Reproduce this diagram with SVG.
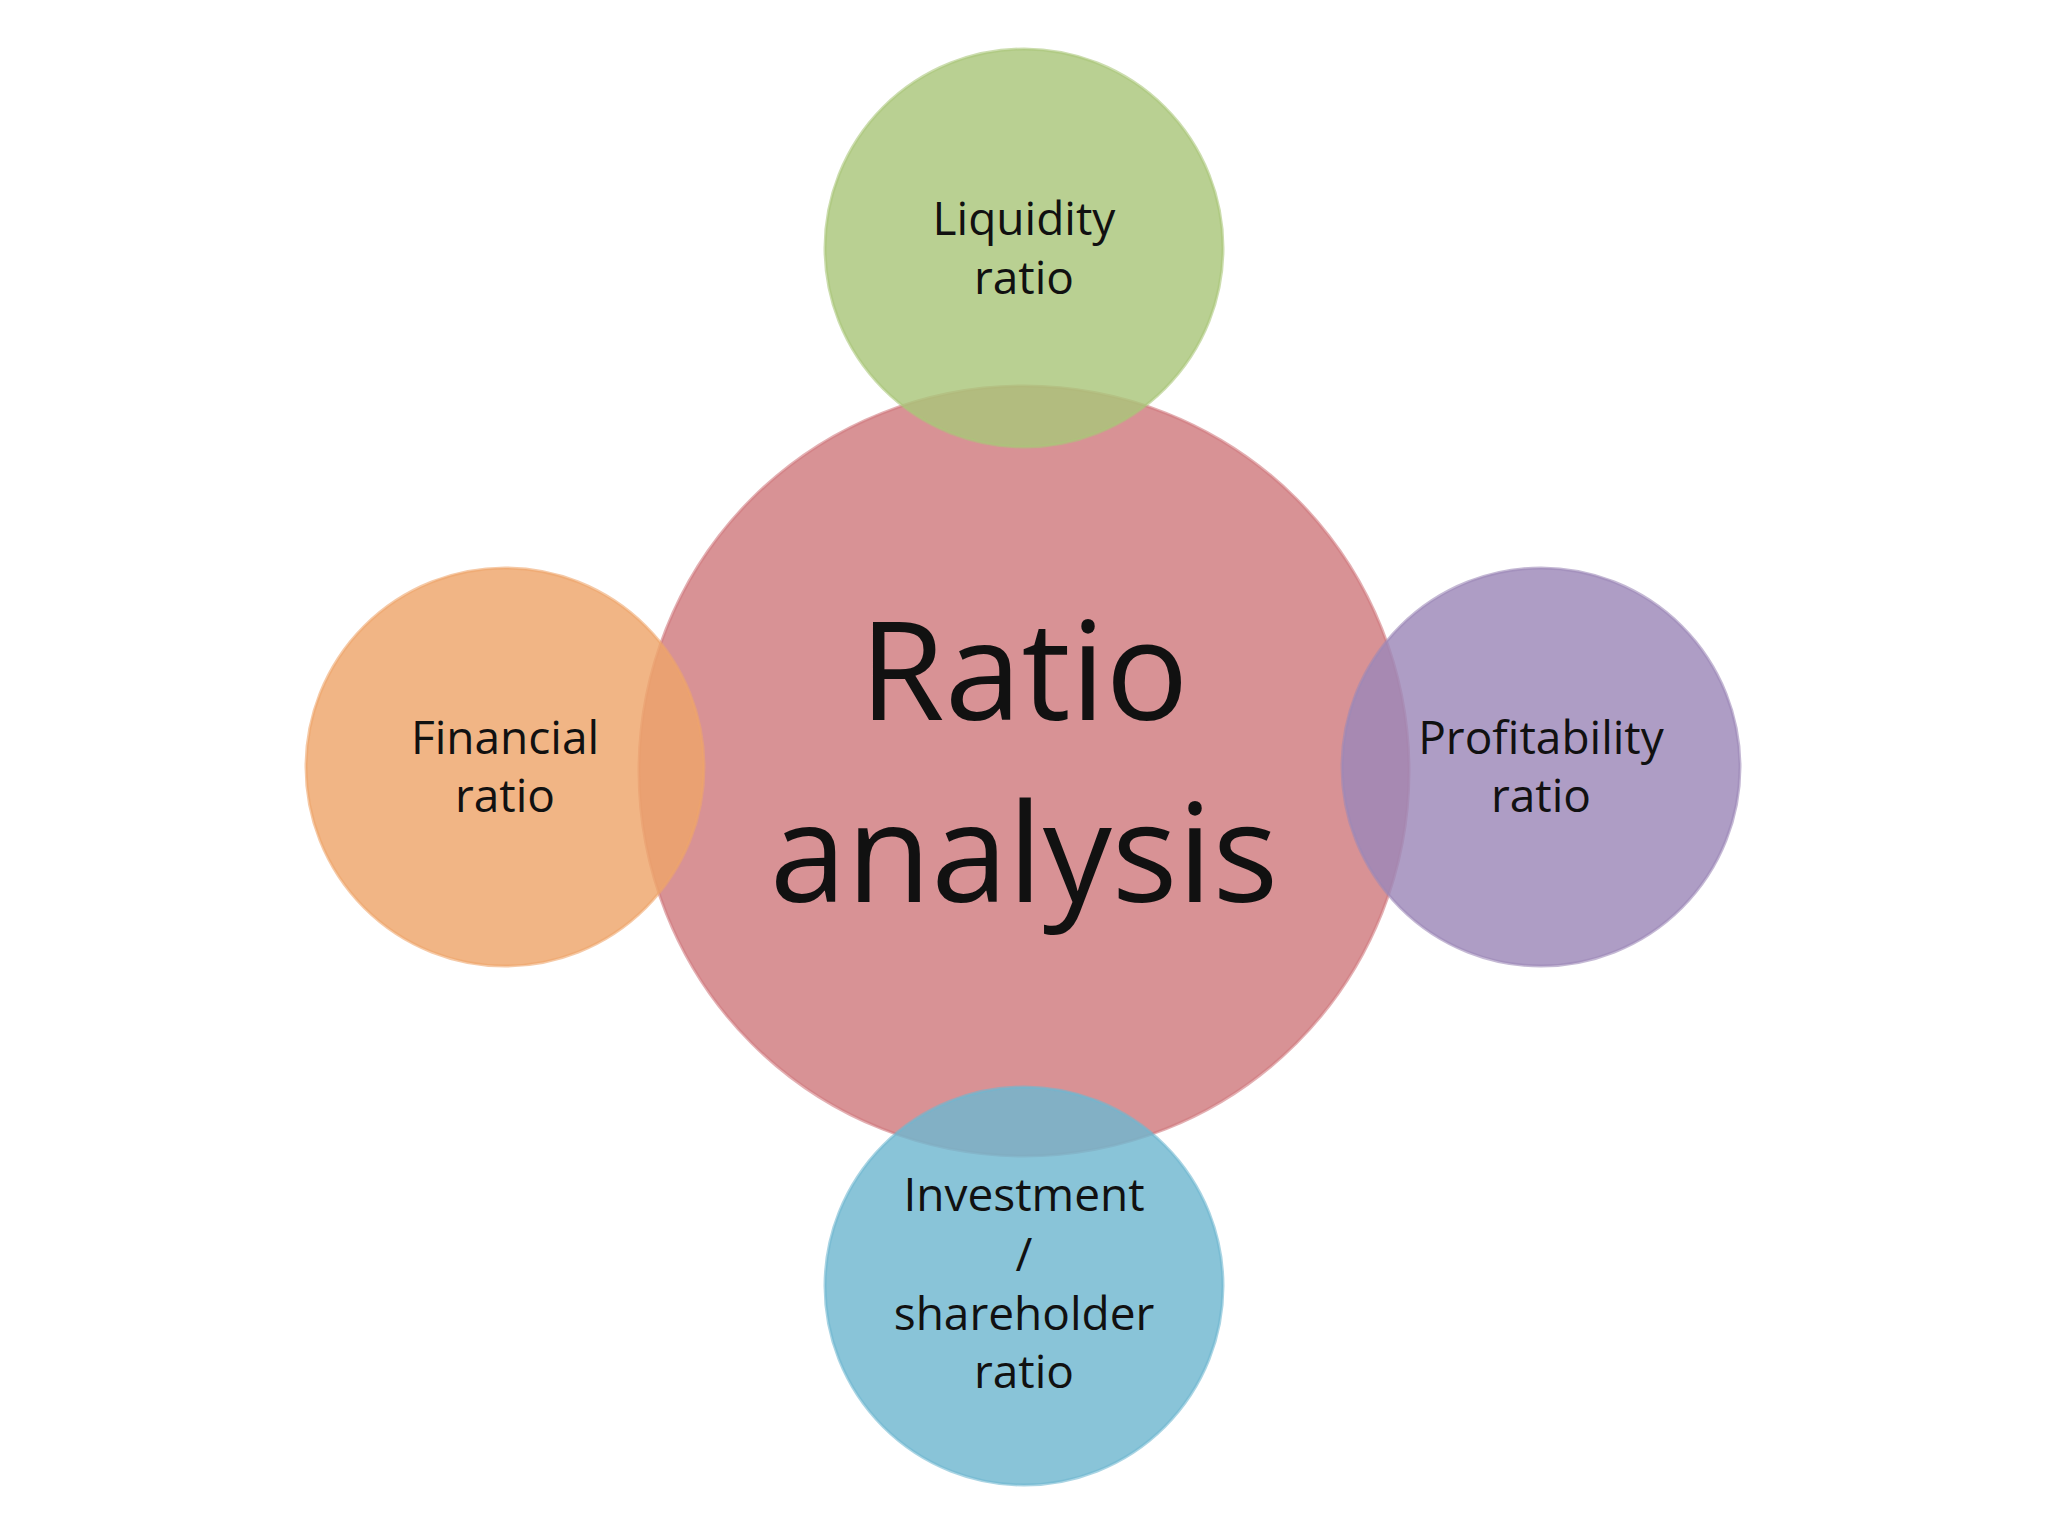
<svg xmlns="http://www.w3.org/2000/svg" width="2048" height="1536" viewBox="0 0 2048 1536">
<style>
.c{stroke-width:3;fill-opacity:0.82;stroke-opacity:0.6}
.t{font-family:"Open Sans","Noto Sans",sans-serif;font-size:46px;fill:#111;text-anchor:middle}
.big{font-family:"Open Sans","Noto Sans",sans-serif;font-size:138px;fill:#111;text-anchor:middle}
</style>
<rect width="2048" height="1536" fill="#fff"/>
<g id="center"><circle class="c" cx="1024" cy="771" r="385" fill="#d07a7e" stroke="#d07a7e"/>
<text class="big" x="1024" y="720">Ratio</text><text class="big" x="1024" y="902">analysis</text></g>
<g id="liquidity"><circle class="c" cx="1024" cy="248" r="199" fill="#aac67a" stroke="#aac67a"/>
<text class="t" x="1024" y="235">Liquidity</text><text class="t" x="1024" y="294">ratio</text></g>
<g id="financial"><circle class="c" cx="505" cy="767" r="199" fill="#eea56a" stroke="#eea56a"/>
<text class="t" x="505" y="754">Financial</text><text class="t" x="505" y="812">ratio</text></g>
<g id="profitability"><circle class="c" cx="1541" cy="767" r="199" fill="#9c88b8" stroke="#9c88b8"/>
<text class="t" x="1541" y="754">Profitability</text><text class="t" x="1541" y="812">ratio</text></g>
<g id="investment"><circle class="c" cx="1024" cy="1286" r="199" fill="#6fb7d0" stroke="#6fb7d0"/>
<text class="t" x="1024" y="1211">Investment</text><text class="t" x="1024" y="1271">/</text><text class="t" x="1024" y="1330">shareholder</text><text class="t" x="1024" y="1388">ratio</text></g>
<g id="connectors"/>
</svg>
